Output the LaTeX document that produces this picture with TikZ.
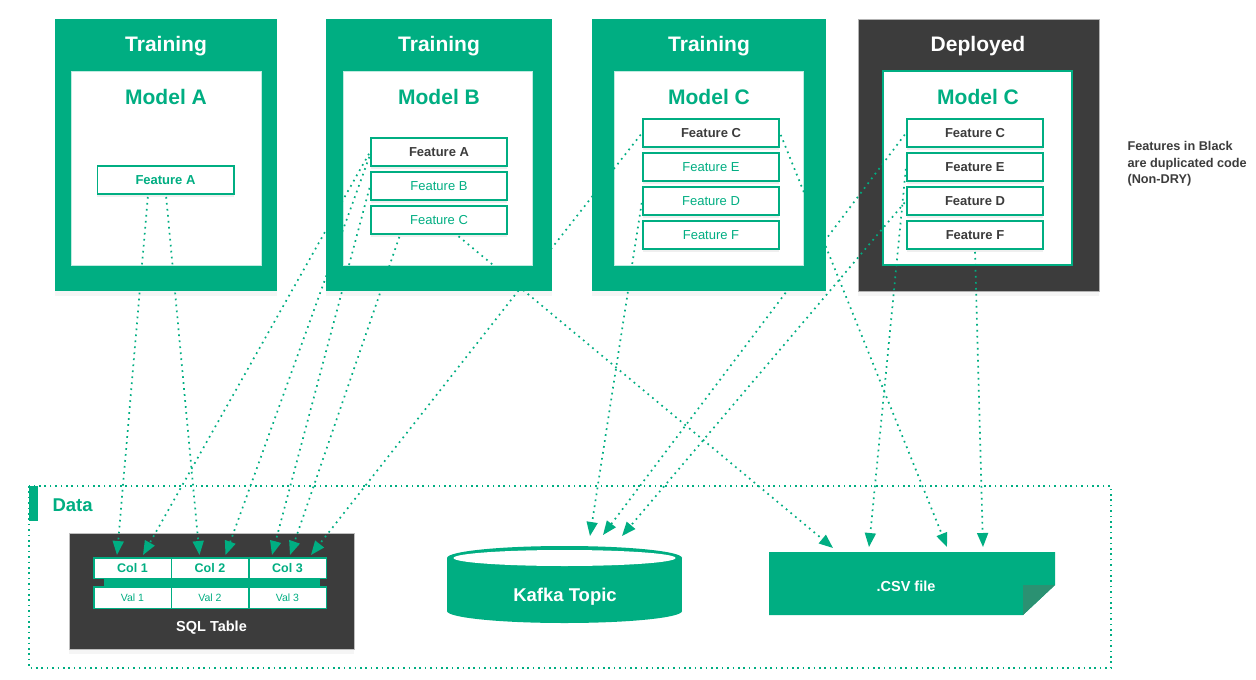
\documentclass[tikz,border=0pt]{standalone}
\usepackage{fontspec}
\setmainfont{Liberation Sans}
\usetikzlibrary{arrows.meta,positioning,shadows}
\definecolor{dsgreen}{HTML}{00AE82}
\definecolor{dsdark}{HTML}{3C3C3C}
\definecolor{dsfold}{HTML}{2B9172}
\tikzset{
pipeline/.style={x=1pt,y=-1pt,>={Triangle[length=14pt,width=11pt]},
font=\fontsize{13}{15}\selectfont},
soft/.style={drop shadow={opacity=0.08,shadow xshift=0pt,shadow yshift=-5pt}},
trainbox/.style={fill=dsgreen,minimum height=272pt,inner sep=0pt,soft},
deploybox/.style={fill=dsdark,draw=gray!60,minimum height=272pt,inner sep=0pt,soft},
modelbox/.style={fill=white,draw=dsgreen!25,minimum height=194pt,inner sep=0pt},
title/.style={text=white,font=\bfseries\fontsize{21}{25}\selectfont},
model/.style={text=dsgreen,font=\bfseries\fontsize{21}{25}\selectfont},
feat/.style={fill=white,draw=dsgreen,line width=1.6pt,minimum width=136.4pt,
minimum height=28.4pt,inner sep=0pt,
drop shadow={opacity=0.12,shadow xshift=0pt,shadow yshift=-3pt}},
featdup/.style={feat,text=dsdark,font=\bfseries\fontsize{13}{15}\selectfont},
featown/.style={feat,text=dsgreen},
featfirst/.style={feat,text=dsgreen,font=\bfseries\fontsize{13}{15}\selectfont},
feed/.style={->,dsgreen,line width=1.7pt,dash pattern=on 1.7pt off 4.3pt,shorten <=2pt},
colcell/.style={fill=white,draw=dsgreen,line width=1.5pt,minimum width=77.5pt,
minimum height=20.5pt,inner sep=0pt,text=dsgreen,font=\bfseries\fontsize{12.5}{14}\selectfont},
valcell/.style={colcell,minimum height=21.5pt,font=\fontsize{10.5}{12}\selectfont},
store/.style={text=white,font=\bfseries\fontsize{#1}{20}\selectfont},
store/.default={18.5},
}
\begin{document}
\begin{tikzpicture}[pipeline]
\useasboundingbox[fill=white] (0,0) rectangle (1256,680);

% the four models
\node[trainbox,minimum width=222pt] (pA) at (166,155) {};
\node[modelbox,minimum width=190pt] (iA) at (166,168) {};
\node[title] (tA) at (166,46) {Training};
\node[model] (mA) at (166,97) {Model A};

\node[trainbox,minimum width=226pt] (pB) at (439,155) {};
\node[modelbox,minimum width=189pt] (iB) at (438,168) {};
\node[title] (tB) at (439,46) {Training};
\node[model] (mB) at (439,97) {Model B};

\node[trainbox,minimum width=234pt] (pC) at (709,155) {};
\node[modelbox,minimum width=189pt] (iC) at (708.5,168) {};
\node[title] (tC) at (709,46) {Training};
\node[model] (mC) at (709,97) {Model C};

\node[deploybox,minimum width=241pt] (pD) at (978.5,155) {};
\node[modelbox,draw=dsgreen,line width=1.5pt,minimum width=189pt,minimum height=194pt] (iD) at (977.5,168) {};
\node[title] (tD) at (978,46) {Deployed};
\node[model] (mD) at (978,97) {Model C};

\node[anchor=west,align=left,text=dsdark,font=\bfseries\fontsize{12.7}{16.5}\selectfont]
  (note) at (1124,164) {Features in Black\\are duplicated code\\(Non-DRY)};

% features
\node[featfirst] (aA) at (165.5,180) {Feature A};

\node[featdup] (bA) at (439,152) {Feature A};
\node[featown] (bB) [below=4pt of bA] {Feature B};
\node[featown] (bC) [below=4pt of bB] {Feature C};

\node[featdup] (cC) at (711,133) {Feature C};
\node[featown] (cE) [below=4pt of cC] {Feature E};
\node[featown] (cD) [below=4pt of cE] {Feature D};
\node[featown] (cF) [below=4pt of cD] {Feature F};

\node[featdup] (dC) at (975,133) {Feature C};
\node[featdup] (dE) [below=4pt of dC] {Feature E};
\node[featdup] (dD) [below=4pt of dE] {Feature D};
\node[featdup] (dF) [below=4pt of dD] {Feature F};

% data sources
\draw[dsgreen,line width=1.6pt,dash pattern=on 1.6pt off 3.8pt] (29,486) rectangle (1111,668);
\fill[dsgreen] (29,486) rectangle (38,521);
\node[anchor=west,text=dsgreen,font=\bfseries\fontsize{18.5}{20}\selectfont] (data) at (49,505) {Data};

\node[fill=dsdark,draw=gray!50,minimum width=285pt,minimum height=116pt,soft] (sql) at (211.5,591) {};
\fill[dsgreen] (104,578) rectangle (320,588);
\node[colcell] (col1) at (132.5,568) {Col 1};
\node[colcell] (col2) [right=-1.5pt of col1] {Col 2};
\node[colcell] (col3) [right=-1.5pt of col2] {Col 3};
\node[valcell] (val1) [below=7pt of col1] {Val 1};
\node[valcell] (val2) [right=-1.5pt of val1] {Val 2};
\node[valcell] (val3) [right=-1.5pt of val2] {Val 3};
\node[store=14.5] (sqlname) at (211.5,628) {SQL Table};

\fill[dsgreen] (564.5,611) ellipse [x radius=117.5,y radius=12];
\fill[dsgreen] (447,558) rectangle (682,611);
\fill[dsgreen] (564.5,558) ellipse [x radius=117.5,y radius=12];
\fill[white] (564.5,558) ellipse [x radius=111,y radius=8];
\node[store] (kafka) at (565,597) {Kafka Topic};

\fill[dsgreen] (769,552) -- (1055,552) -- (1055,585) -- (1023,615) -- (769,615) -- cycle;
\fill[dsfold] (1023,585) -- (1055,585) -- (1023,615) -- cycle;
\node[store=14.5] (csv) at (906,586) {.CSV file};

% arrow ends
\coordinate (c1a) at ([xshift=-15.5pt,yshift=2pt]col1.north);
\coordinate (c1b) at ([xshift=10.5pt,yshift=2pt]col1.north);
\coordinate (c2a) at ([xshift=-10.5pt,yshift=2pt]col2.north);
\coordinate (c2b) at ([xshift=15.5pt,yshift=2pt]col2.north);
\coordinate (c3a) at ([xshift=-15.5pt,yshift=2pt]col3.north);
\coordinate (c3b) at ([xshift=2.5pt,yshift=2pt]col3.north);
\coordinate (c3c) at ([xshift=23.5pt,yshift=2pt]col3.north);
\coordinate (k1) at (590,536);
\coordinate (k2) at (603,535);
\coordinate (k3) at (622,536);
\coordinate (v1) at (833,548);
\coordinate (v2) at (869,547);
\coordinate (v3) at (947,547);
\coordinate (v4) at (983,547);

\path[feed] ([xshift=-17.5pt]aA.south) edge (c1a);
\path[feed] ([xshift=0.5pt]aA.south) edge (c2a);

\path[feed] (bA.west) edge (c1b);
\path[feed] ([yshift=-3pt]bA.west) edge (c2b);
\path[feed] (bB.west) edge (c3a);
\path[feed] ([xshift=-39pt]bC.south) edge (c3b);
\path[feed] ([xshift=18pt]bC.south) edge (v1);

\path[feed] (cC.west) edge (c3c);
\path[feed] (cC.east) edge (v3);
\path[feed] (cD.west) edge (k1);

\path[feed] (dC.west) edge (k2);
\path[feed] (dD.west) edge (k3);
\path[feed] (dE.west) edge (v2);
\path[feed] (dF.south) edge (v4);

\end{tikzpicture}
\end{document}
